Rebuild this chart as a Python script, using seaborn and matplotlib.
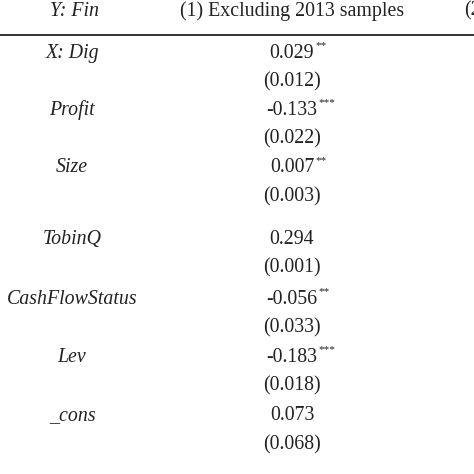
import matplotlib
matplotlib.use('Agg')
import matplotlib.pyplot as plt
import seaborn as sns

## table data
variables = ['X: Dig', 'Profit', 'Size', 'TobinQ', 'CashFlowStatus', 'Lev', '_cons']
coefs = ['0.029', '-0.133', '0.007', '0.294', '-0.056', '-0.183', '0.073']
stars = ['**', '***', '**', '', '**', '***', '']
ses = ['(0.012)', '(0.022)', '(0.003)', '(0.001)', '(0.033)', '(0.018)', '(0.068)']
header_left = 'Y: Fin'
header_col1 = '(1) Excluding 2013 samples'
header_col2 = '(2'

sns.set_style('white')
plt.rcParams['font.family'] = ['Liberation Serif', 'DejaVu Serif']

fig = plt.figure(figsize=(4.74, 4.74), dpi=100)
ax = fig.add_axes([0, 0, 1, 1])
ax.set_xlim(0, 474)
ax.set_ylim(474, 0)
ax.axis('off')

fs = 14.3
ax.text(75, 11, header_left, ha='center', va='center', fontsize=fs, style='italic', color='#222222')
ax.text(292, 11, header_col1, ha='center', va='center', fontsize=fs, color='#222222')
ax.text(464, 11, header_col2, ha='left', va='center', fontsize=fs, color='#222222')
ax.axhline(35, color='#222222', lw=1.3)

row_y = [53, 110, 168, 239, 299, 357, 416]
for y, var, c, s, se in zip(row_y, variables, coefs, stars, ses):
    ax.text(72, y, var, ha='center', va='center', fontsize=fs, style='italic', color='#222222')
    t = ax.text(292, y, c, ha='center', va='center', fontsize=fs, color='#222222')
    if s:
        # superscript stars right after the coefficient
        fig.canvas.draw()
        bb = t.get_window_extent().transformed(ax.transData.inverted())
        ax.text(bb.x1 + 1, y - 7, s, ha='left', va='center', fontsize=8, color='#222222')
    ax.text(292, y + 29, se, ha='center', va='center', fontsize=fs, color='#222222')

fig.savefig('out.png', dpi=100)
